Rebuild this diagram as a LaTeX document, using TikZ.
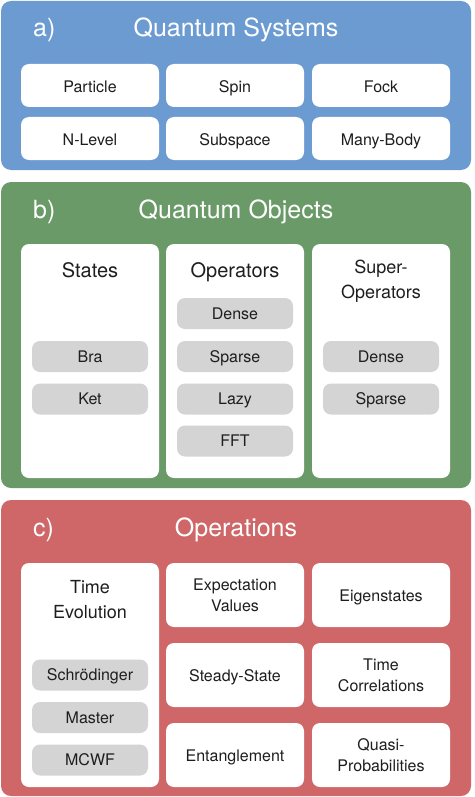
\documentclass[tikz,border=0pt]{standalone}
\usepackage{fontspec}
\setmainfont{TeX Gyre Heros}
\definecolor{pblue}{HTML}{6C9BD2}
\definecolor{pgreen}{HTML}{6A9A67}
\definecolor{pred}{HTML}{CF6769}
\definecolor{pill}{HTML}{D4D4D4}
\definecolor{txt}{HTML}{1E1E1E}
\tikzset{
  panel/.style={fill=#1, rounded corners=10pt, inner sep=0pt, draw=none, minimum width=470pt},
  wbox/.style={fill=white, rounded corners=8pt, inner sep=0pt, minimum width=138pt, align=center, text=txt, font=\fontsize{16}{21}\selectfont},
  oneline/.style={text height=13.5pt, text depth=0pt},
  gbox/.style={fill=pill, rounded corners=8pt, inner sep=0pt, minimum width=116pt, minimum height=31pt, text=txt, text height=11.5pt, text depth=0pt, font=\fontsize{16}{19}\selectfont},
  ttl/.style={text=white, inner sep=0pt, anchor=base, font=\fontsize{25}{28}\selectfont},
  head/.style={text=txt, inner sep=0pt, anchor=base, align=center, font=\fontsize{20}{24}\selectfont},
  shead/.style={text=txt, inner sep=0pt, anchor=base, align=center, font=\fontsize{18}{25}\selectfont},
}
\begin{document}
\begin{tikzpicture}[x=1pt,y=-1pt]
\useasboundingbox (0,0) rectangle (474,797);
% panels
\node[panel=pblue, minimum height=169pt] (pa) at (236,85.5) {};
\node[panel=pgreen, minimum height=306pt] (pb) at (236,335) {};
\node[panel=pred, minimum height=296pt] (pc) at (236,648) {};
% titles
\node[ttl, anchor=base west] (la) at (33,37) {a)};
\node[ttl] (ta) at (236,37) {Quantum Systems};
\node[ttl, anchor=base west] (lb) at (33,218) {b)};
\node[ttl] (tb) at (236,218) {Quantum Objects};
\node[ttl, anchor=base west] (lc) at (33,536) {c)};
\node[ttl] (tc) at (236,536) {Operations};
% panel a
\node[wbox, oneline, minimum height=43pt] (particle) at (90,85.5) {Particle};
\node[wbox, oneline, minimum height=43pt] (spin) at (235,85.5) {Spin};
\node[wbox, oneline, minimum height=43pt] (fock) at (381,85.5) {Fock};
\node[wbox, oneline, minimum height=43pt] (nlevel) at (90,138.5) {N-Level};
\node[wbox, oneline, minimum height=43pt] (subspace) at (235,138.5) {Subspace};
\node[wbox, oneline, minimum height=43pt] (manybody) at (381,138.5) {Many-Body};
% panel b
\node[wbox, minimum height=234pt] (states) at (90,361) {};
\node[wbox, minimum height=234pt] (operators) at (235,361) {};
\node[wbox, minimum height=234pt] (superops) at (381,361) {};
\node[head] (hstates) at (90,277) {States};
\node[head] (hops) at (235,277) {Operators};
\node[shead] (hsup) at (381,298) {Super-\\Operators};
\node[gbox] (bra) at (90,356.5) {Bra};
\node[gbox] (ket) at (90,399) {Ket};
\node[gbox] (odense) at (235,313.5) {Dense};
\node[gbox] (osparse) at (235,356.5) {Sparse};
\node[gbox] (olazy) at (235,399) {Lazy};
\node[gbox] (offt) at (235,441) {FFT};
\node[gbox] (sdense) at (381,356.5) {Dense};
\node[gbox] (ssparse) at (381,399) {Sparse};
% panel c
\node[wbox, minimum height=224pt] (timeevo) at (90,675) {};
\node[shead] (htime) at (90,618) {Time\\Evolution};
\node[gbox] (schr) at (90,675) {Schrödinger};
\node[gbox] (master) at (90,717.5) {Master};
\node[gbox] (mcwf) at (90,760) {MCWF};
\node[wbox, minimum height=64pt] (expect) at (235,595) {Expectation\\Values};
\node[wbox, oneline, minimum height=64pt] (eigen) at (381,595) {Eigenstates};
\node[wbox, oneline, minimum height=64pt] (steady) at (235,675) {Steady-State};
\node[wbox, minimum height=64pt] (timecorr) at (381,675) {Time\\Correlations};
\node[wbox, oneline, minimum height=64pt] (entangle) at (235,755) {Entanglement};
\node[wbox, minimum height=64pt] (quasi) at (381,755) {Quasi-\\Probabilities};
\end{tikzpicture}
\end{document}
